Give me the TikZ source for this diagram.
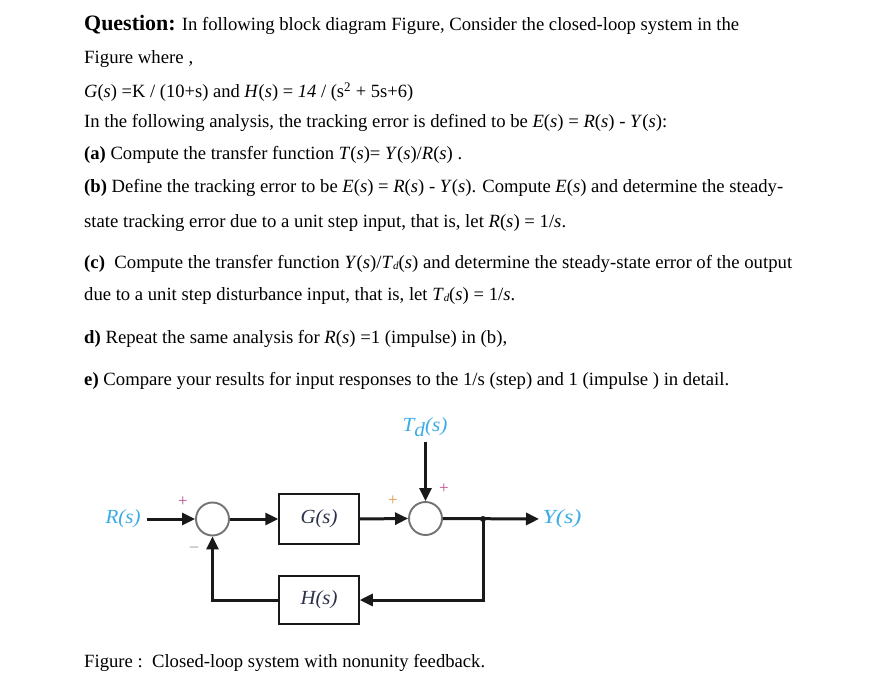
\documentclass[tikz,border=0pt]{standalone}
\usepackage{fontspec}
\usepackage{graphicx}
\setmainfont{Liberation Serif}
\usetikzlibrary{arrows.meta}
\definecolor{lblue}{RGB}{59,172,230}
\definecolor{pplus}{RGB}{190,80,140}
\definecolor{oplus}{RGB}{230,150,70}
\definecolor{mgray}{RGB}{150,150,165}
\definecolor{boxtxt}{RGB}{45,50,75}
\newsavebox\fitbox
\newcommand\fitto[2]{\sbox\fitbox{#2}\pgfmathsetmacro\fitfx{#1/\wd\fitbox}\scalebox{\fitfx}[1]{\usebox\fitbox}}
\newcommand\ti[1]{\textit{#1}}
\newcommand\Tdt{\textit{T}\raisebox{-1.5pt}{\fontsize{11}{11}\selectfont\itshape d}}
\begin{document}
\begin{tikzpicture}[x=1pt,y=-1pt,
  tline/.style={anchor=base west, inner sep=0pt, font=\fontsize{18.7}{22}\selectfont},
  blk/.style={draw=black!90, line width=1.5pt, minimum width=80pt, inner sep=0pt,
    font=\fontsize{20}{24}\selectfont\itshape, text=boxtxt},
  sumc/.style={circle, draw=black!55, line width=1.9pt, minimum size=33pt, inner sep=0pt},
  sig/.style={line width=3pt, draw=black!90, -{Triangle[length=13pt,width=12pt]}},
  lbl/.style={text=lblue, font=\fontsize{20}{24}\selectfont\itshape, inner sep=0pt},
  sgn/.style={inner sep=0pt, font=\fontsize{17}{20}\selectfont}]
\fill[white] (0,0) rectangle (871,698);
\useasboundingbox (0,0) rectangle (871,698);

% ---- text ----
\node[tline] (l1) at (84,31) {\fitto{655}{{\fontsize{22}{26}\selectfont\bfseries Question:} In following block diagram Figure, Consider the closed-loop system in the}};
\node[tline] (l2) at (84,64) {\fitto{109}{Figure where ,}};
\node[tline] (l3) at (84,98) {\fitto{329}{\ti{G}(\ti{s}) =K / (10+s) and \ti{H}(\ti{s}) = \ti{14} / (s\textsuperscript{2} + 5s+6)}};
\node[tline] (l4) at (84,128) {\fitto{583}{In the following analysis, the tracking error is defined to be \ti{E}(\ti{s}) = \ti{R}(\ti{s}) - \ti{Y}(\ti{s}):}};
\node[tline] (l5) at (84,160) {\fitto{378}{\textbf{(a)} Compute the transfer function \ti{T}(\ti{s})= \ti{Y}(\ti{s})/\ti{R}(\ti{s}) .}};
\node[tline] (l6) at (84,193) {\fitto{699}{\textbf{(b)} Define the tracking error to be \ti{E}(\ti{s}) = \ti{R}(\ti{s}) - \ti{Y}(\ti{s}). Compute \ti{E}(\ti{s}) and determine the steady-}};
\node[tline] (l7) at (84,227) {\fitto{482}{state tracking error due to a unit step input, that is, let \ti{R}(\ti{s}) = 1/\ti{s}.}};
\node[tline] (l8) at (84,268) {\fitto{708}{\textbf{(c)}\ \ Compute the transfer function \ti{Y}(\ti{s})/\Tdt(\ti{s}) and determine the steady-state error of the output}};
\node[tline] (l9) at (84,300) {\fitto{431}{due to a unit step disturbance input, that is, let \Tdt(\ti{s}) = 1/\ti{s}.}};
\node[tline] (l10) at (84,343) {\fitto{423}{\textbf{d)} Repeat the same analysis for \ti{R}(\ti{s}) =1 (impulse) in (b),}};
\node[tline] (l11) at (84,385) {\fitto{645}{\textbf{e)} Compare your results for input responses to the 1/s (step) and 1 (impulse ) in detail.}};
\node[tline] (cap) at (84,667) {\fitto{401}{Figure :\ \ Closed-loop system with nonunity feedback.}};

% ---- block diagram ----
\node[lbl] (R) at (123,519) {\fitto{35}{R(s)}};
\node[sumc] (s1) at (212.5,519) {};
\node[sumc] (s2) at (425.5,518.5) {};
\node[blk, minimum height=50pt] (G) at (319,519) {\fitto{37}{G(s)}};
\node[blk, minimum height=48pt] (H) at (319,600) {\fitto{37}{H(s)}};
\node[lbl] (Y) at (562,519) {\fitto{39}{Y(s)}};
\node[lbl] (Td) at (425,427) {\fitto{45}{T\raisebox{-5pt}{d}(s)}};
\coordinate (rin) at (147,519);
\coordinate (yend) at (539,519);
\coordinate (br) at (483,519);
\coordinate (tdin) at (425.5,442);

\draw[sig] (rin) -- (s1.west);
\draw[sig] (s1.east) -- (G.west);
\draw[sig] (G.east) -- (s2.west);
\draw[sig] (s2.east) -- (yend);
\draw[sig] (tdin) -- (s2.north);
\draw[sig] (br) |- (H.east);
\draw[sig] (H.west) -| (s1.south);
\fill[black!90] (br) circle (3pt);

\node[sgn, text=pplus] (p1) at (183,502) {+};
\node[sgn, text=mgray] (m1) at (194,549) {\textendash};
\node[sgn, text=oplus] (p2) at (393,501) {+};
\node[sgn, text=pplus] (p3) at (444,489) {+};
\end{tikzpicture}
\end{document}
